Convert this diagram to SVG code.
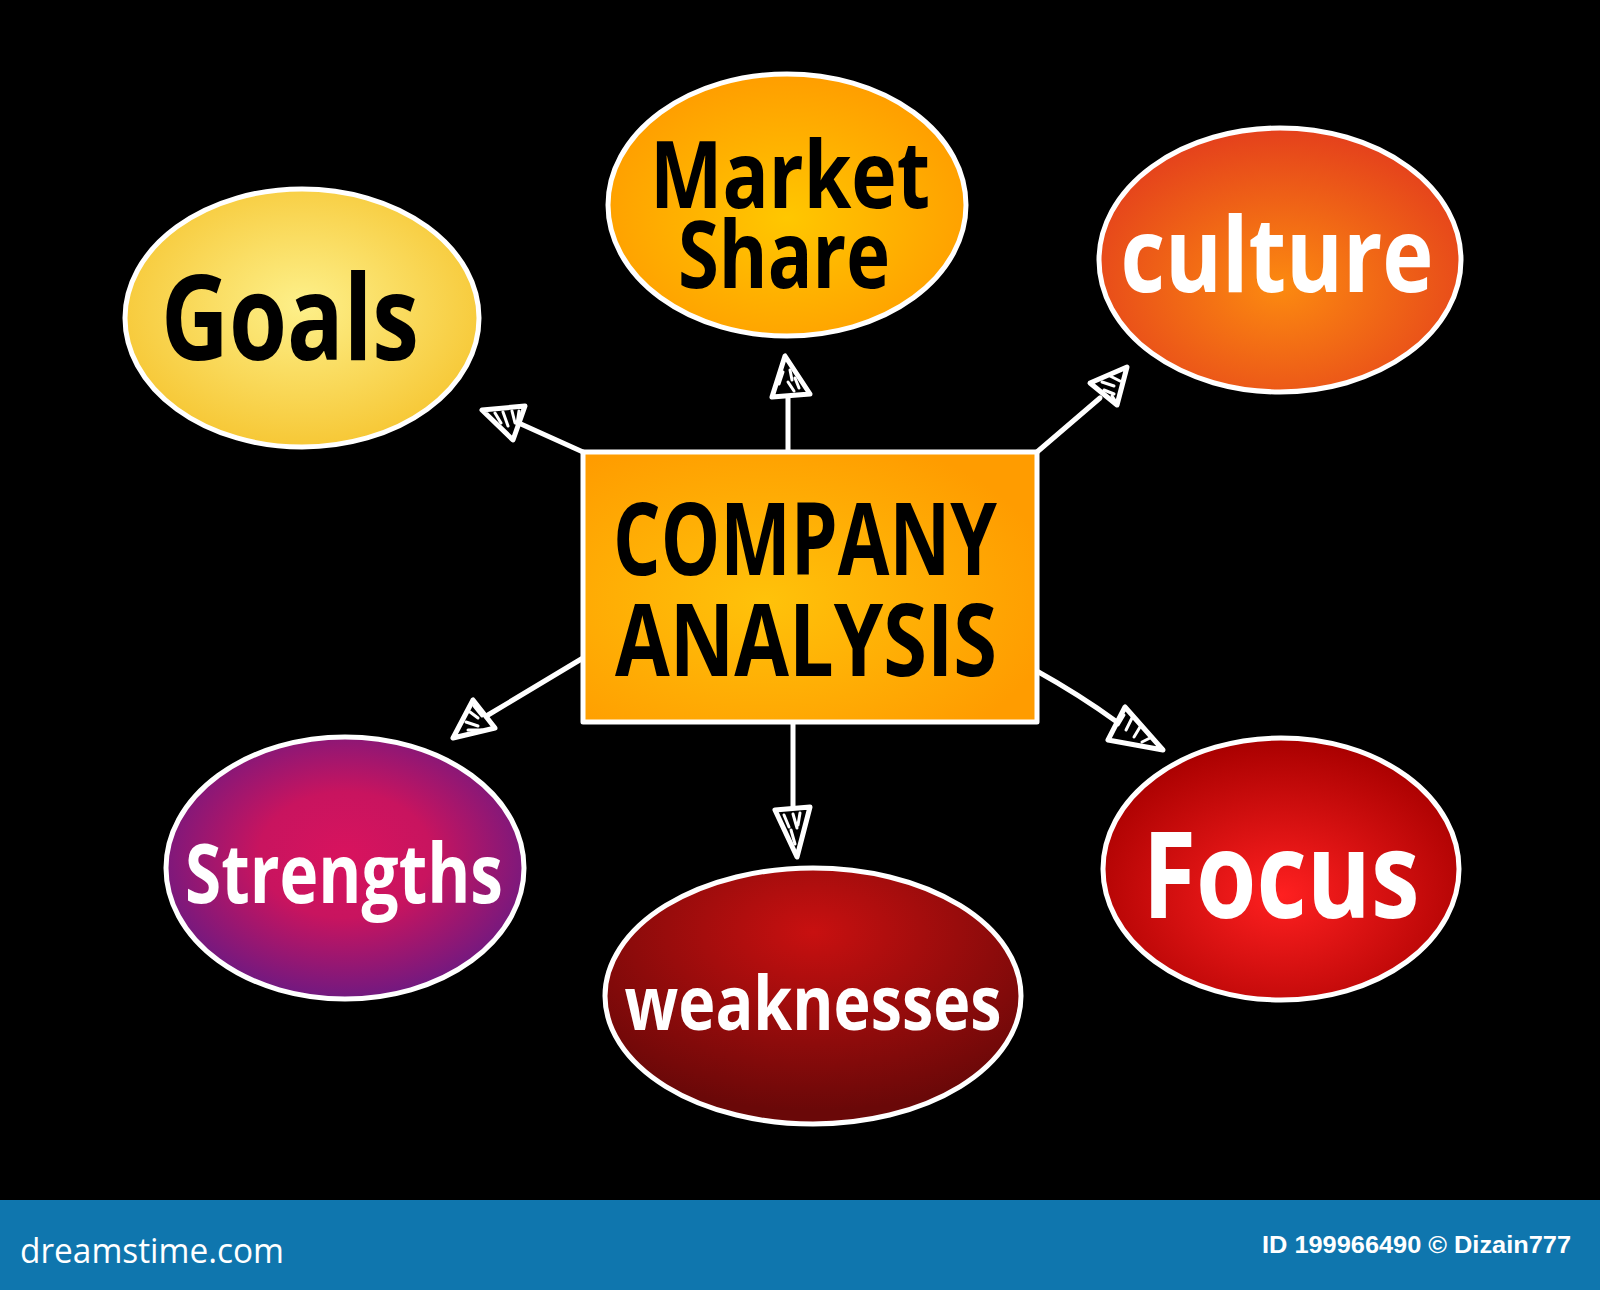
<svg xmlns="http://www.w3.org/2000/svg" width="1600" height="1290" viewBox="0 0 1600 1290">
<style>
  .bub { stroke: #ffffff; stroke-width: 5; }
  .lbl { font-family: "Open Sans", "Liberation Sans", sans-serif; font-weight: 700; text-anchor: middle; }
  .dark { fill: #000000; }
  .light { fill: #ffffff; }
  .conn line, .conn path { stroke: #ffffff; stroke-width: 5; fill: none; stroke-linecap: round; }
  .conn polygon { fill: #000000; stroke: #ffffff; stroke-width: 5; stroke-linejoin: round; }
  .conn .hatch { stroke: #ffffff; stroke-width: 3; fill: none; stroke-linecap: round; }
</style>
<defs>
  <radialGradient id="gGoals" cx="50%" cy="45%" r="60%">
    <stop offset="0" stop-color="#fdf08a"/>
    <stop offset="1" stop-color="#f6c42e"/>
  </radialGradient>
  <radialGradient id="gMarket" cx="50%" cy="55%" r="60%">
    <stop offset="0" stop-color="#ffc700"/>
    <stop offset="1" stop-color="#ff9a00"/>
  </radialGradient>
  <radialGradient id="gCulture" cx="50%" cy="60%" r="60%">
    <stop offset="0" stop-color="#fc8a10"/>
    <stop offset="1" stop-color="#e4401c"/>
  </radialGradient>
  <radialGradient id="gStrengths" cx="50%" cy="45%" r="60%">
    <stop offset="0" stop-color="#d8135e"/>
    <stop offset="0.4" stop-color="#c8145f"/>
    <stop offset="1" stop-color="#621a86"/>
  </radialGradient>
  <radialGradient id="gWeak" cx="50%" cy="25%" r="70%">
    <stop offset="0" stop-color="#c81010"/>
    <stop offset="1" stop-color="#6a0808"/>
  </radialGradient>
  <radialGradient id="gFocus" cx="50%" cy="60%" r="60%">
    <stop offset="0" stop-color="#ff2020"/>
    <stop offset="1" stop-color="#a80000"/>
  </radialGradient>
  <radialGradient id="gCenter" cx="40%" cy="55%" r="65%">
    <stop offset="0" stop-color="#ffc20a"/>
    <stop offset="1" stop-color="#ff9c00"/>
  </radialGradient>
</defs>

<rect x="0" y="0" width="1600" height="1290" fill="#000000"/>

<g id="connectors" class="conn">
  <!-- to Goals -->
  <line x1="583" y1="452" x2="512" y2="420"/>
  <polygon points="482,410 525,406 513,440"/>
  <path class="hatch" d="M495,413 l6,10 M503,412 l5,14 M512,411 l3,12 M519,411 l-2,13"/>
  <!-- to Market Share -->
  <line x1="788" y1="452" x2="788" y2="396"/>
  <polygon points="785,356 772,397 810,394"/>
  <path class="hatch" d="M783,372 l-4,12 M790,370 l2,10 M788,382 l6,9 M795,378 l4,10"/>
  <!-- to Culture -->
  <line x1="1037" y1="452" x2="1100" y2="398"/>
  <polygon points="1090,383 1127,367 1117,405"/>
  <path class="hatch" d="M1102,382 l12,4 M1104,390 l10,4 M1110,376 l10,5 M1112,396 l4,6"/>
  <!-- to Strengths -->
  <line x1="583" y1="658" x2="488" y2="715"/>
  <polygon points="473,700 453,738 495,728"/>
  <path class="hatch" d="M470,712 l8,6 M466,722 l12,4 M474,706 l8,10 M468,730 l14,0"/>
  <!-- to Weaknesses -->
  <line x1="793" y1="722" x2="793" y2="808"/>
  <polygon points="775,810 810,807 797,857"/>
  <path class="hatch" d="M784,815 l5,12 M793,814 l4,14 M800,813 l-2,12 M791,830 l4,14"/>
  <!-- to Focus -->
  <path d="M1035,670 Q1080,695 1117,722"/>
  <polygon points="1125,707 1108,740 1163,750"/>
  <path class="hatch" d="M1118,725 l6,-10 M1126,730 l6,-12 M1134,737 l6,-10 M1142,742 l8,-4"/>
</g>

<g id="node-center">
  <rect x="583" y="452" width="454" height="270" fill="url(#gCenter)" stroke="#ffffff" stroke-width="5" stroke-linejoin="round"/>
  <text class="lbl dark" x="805" y="575" font-size="100" textLength="384" lengthAdjust="spacingAndGlyphs">COMPANY</text>
  <text class="lbl dark" x="806" y="676" font-size="100" textLength="382" lengthAdjust="spacingAndGlyphs">ANALYSIS</text>
</g>

<g id="node-goals">
  <ellipse class="bub" cx="302" cy="318" rx="177" ry="129" fill="url(#gGoals)"/>
  <text class="lbl dark" x="290" y="360" font-size="118" textLength="258" lengthAdjust="spacingAndGlyphs">Goals</text>
</g>

<g id="node-market">
  <ellipse class="bub" cx="787" cy="205" rx="179" ry="131" fill="url(#gMarket)"/>
  <text class="lbl dark" x="790" y="208" font-size="94" textLength="280" lengthAdjust="spacingAndGlyphs">Market</text>
  <text class="lbl dark" x="784" y="288" font-size="94" textLength="212" lengthAdjust="spacingAndGlyphs">Share</text>
</g>

<g id="node-culture">
  <ellipse class="bub" cx="1280" cy="260" rx="181" ry="132" fill="url(#gCulture)"/>
  <text class="lbl light" x="1277" y="292" font-size="104" textLength="313" lengthAdjust="spacingAndGlyphs">culture</text>
</g>

<g id="node-strengths">
  <ellipse class="bub" cx="345" cy="868" rx="179" ry="131" fill="url(#gStrengths)"/>
  <text class="lbl light" x="344" y="903" font-size="82" textLength="318" lengthAdjust="spacingAndGlyphs">Strengths</text>
</g>

<g id="node-weaknesses">
  <ellipse class="bub" cx="813" cy="996" rx="208" ry="128" fill="url(#gWeak)"/>
  <text class="lbl light" x="813" y="1030" font-size="76" textLength="377" lengthAdjust="spacingAndGlyphs">weaknesses</text>
</g>

<g id="node-focus">
  <ellipse class="bub" cx="1281" cy="869" rx="178" ry="131" fill="url(#gFocus)"/>
  <text class="lbl light" x="1281" y="918" font-size="120" textLength="277" lengthAdjust="spacingAndGlyphs">Focus</text>
</g>

<g id="footer">
  <rect x="0" y="1200" width="1600" height="90" fill="#0f76ae"/>
  <text x="20" y="1263" font-family="'Open Sans', 'Liberation Sans', sans-serif" font-size="34" fill="#ffffff" textLength="264" lengthAdjust="spacingAndGlyphs">dreamstime.com</text>
  <text x="1571" y="1253" font-family="'Liberation Sans', sans-serif" font-weight="700" font-size="24" fill="#ffffff" text-anchor="end" textLength="309" lengthAdjust="spacingAndGlyphs">ID 199966490 © Dizain777</text>
</g>
</svg>
